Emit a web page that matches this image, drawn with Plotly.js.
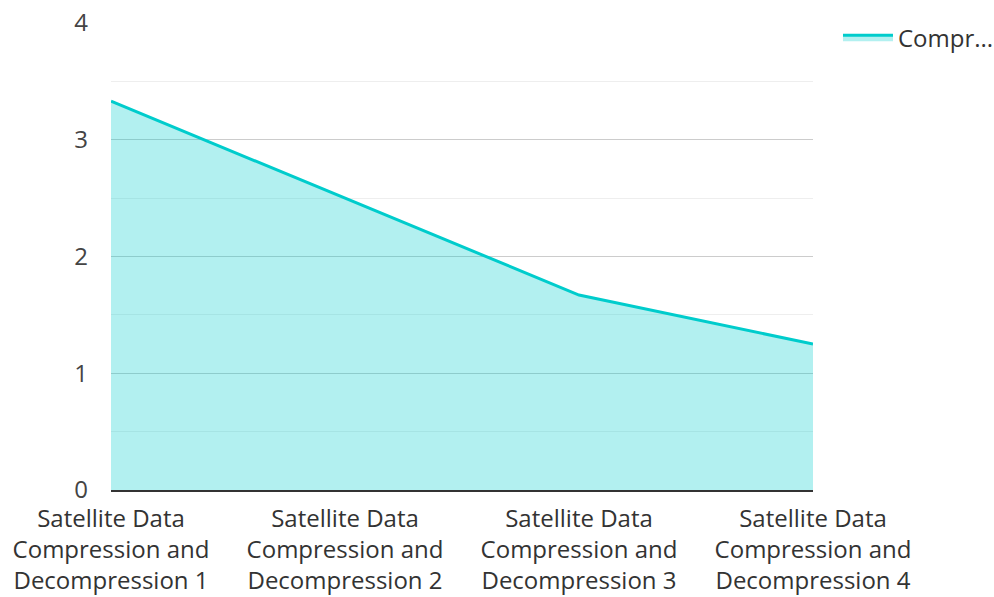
<!DOCTYPE html>
<html>
<head>
<meta charset="utf-8">
<script src="https://cdn.plot.ly/plotly-3.0.1.min.js"></script>
<style>html,body{margin:0;padding:0;background:#fff;}#chart{width:994px;height:597px;}</style>
</head>
<body>
<div id="chart"></div>
<script>
var categories = [
  "Satellite Data<br>Compression and<br>Decompression 1",
  "Satellite Data<br>Compression and<br>Decompression 2",
  "Satellite Data<br>Compression and<br>Decompression 3",
  "Satellite Data<br>Compression and<br>Decompression 4"
];
var values = [3.33, 2.5, 1.67, 1.25];
var seriesName = "Compr...";
var yTicks = [0, 1, 2, 3, 4];

var trace = {
  x: categories,
  y: values,
  type: 'scatter',
  mode: 'lines',
  name: seriesName,
  fill: 'tozeroy',
  fillcolor: 'rgba(0,204,204,0.3)',
  line: {color: '#00CCCC', width: 3},
  hoverinfo: 'x+y'
};

var layout = {
  width: 994,
  height: 597,
  margin: {l: 111, r: 181, t: 23, b: 107, autoexpand: false},
  paper_bgcolor: '#fff',
  plot_bgcolor: '#fff',
  font: {family: '"Open Sans", "Noto Sans", sans-serif', size: 24, color: '#444'},
  showlegend: true,
  legend: {x: 1.0356, y: 1.017, xanchor: 'left', yanchor: 'top', itemwidth: 50, font: {size: 24, color: '#333'}},
  xaxis: {
    type: 'category',
    range: [0, 3],
    automargin: false,
    showgrid: false,
    showline: true,
    linecolor: '#333',
    linewidth: 2,
    ticks: '',
    ticklabelstandoff: 6,
    tickfont: {size: 24, color: '#333'},
    zeroline: false
  },
  yaxis: {
    range: [0, 4],
    automargin: false,
    tickvals: yTicks,
    showgrid: true,
    gridcolor: '#ccc',
    gridwidth: 1,
    zeroline: false,
    ticks: '',
    ticklabelstandoff: 22,
    tickfont: {size: 24, color: '#444'},
    minor: {dtick: 0.5, showgrid: true, gridcolor: '#eee', gridwidth: 1}
  }
};

Plotly.newPlot('chart', [trace], layout, {displayModeBar: false, responsive: false});
</script>
</body>
</html>
